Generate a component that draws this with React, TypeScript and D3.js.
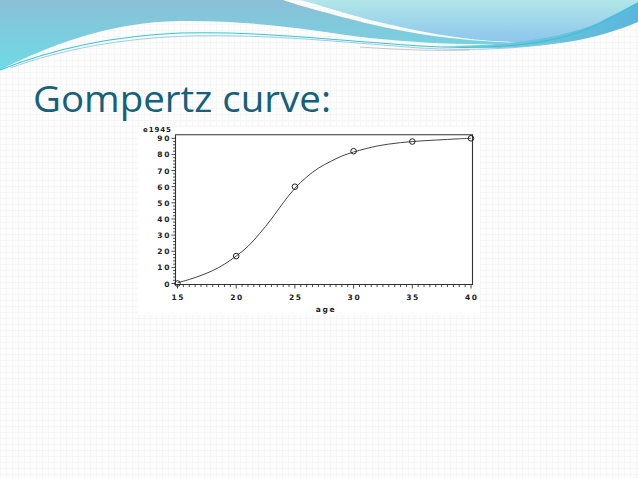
import React from "react";
import * as d3 from "d3";

// observed points (age, e1945)
const obsAge = [15, 20, 25, 30, 35, 40];
const obsVal = [0, 17, 60, 82, 88, 90];
// fitted Gompertz curve
const curveAge = [15, 16, 17, 18, 19, 20, 21, 22, 23, 24, 25, 26, 27, 28, 29, 30, 31, 32, 33, 34, 35, 36, 37, 38, 39, 40];
const curveVal = [0.5, 2.5, 5, 8, 12, 17, 23, 31, 40, 50, 59, 66, 71.5, 75.5, 79, 81.5, 83.5, 85.2, 86.4, 87.3, 88, 88.5, 88.9, 89.3, 89.7, 90];
const xTicks = [15, 20, 25, 30, 35, 40];
const yTicks = [0, 10, 20, 30, 40, 50, 60, 70, 80, 90];

const W = 638, H = 478;

export default function App() {
  const x = d3.scaleLinear().domain([15, 40]).range([177.5, 471]);
  const y = d3.scaleLinear().domain([0, 90]).range([283.5, 138.3]);
  const line = d3
    .line<number>()
    .x((_, i) => x(curveAge[i]))
    .y((d) => y(d))
    .curve(d3.curveCatmullRom.alpha(0.5));
  const xMinor = d3.range(15, 40.01, 0.5);
  const yMinor = d3.range(0, 90.01, 2);
  const axisLeft = 175.5;
  const axisBottom = 284.5;
  const frameTop = 134.7;
  const frameRight = 472.5;
  const tickFont = { fontFamily: "DejaVu Sans, sans-serif", fontSize: 7.5, fontWeight: 700, letterSpacing: 1.6, fill: "#222" } as const;

  return (
    <svg width={W} height={H} style={{ position: "absolute", left: 0, top: 0 }}>
      <defs>
        <linearGradient id="gL" x1="0" y1="0" x2="0" y2="1">
          <stop offset="0" stopColor="#8bbfd6" />
          <stop offset="1" stopColor="#6ddbe6" />
        </linearGradient>
        <linearGradient id="gR" x1="0" y1="0" x2="0" y2="1">
          <stop offset="0" stopColor="#b2e6e8" />
          <stop offset="1" stopColor="#8cc6ec" />
        </linearGradient>
        <linearGradient id="gB" x1="0" y1="0" x2="1" y2="0">
          <stop offset="0" stopColor="#7fd0e0" />
          <stop offset="1" stopColor="#5ab6dc" />
        </linearGradient>
        <pattern id="tex" width="6" height="6" patternUnits="userSpaceOnUse">
          <rect width="6" height="6" fill="#fdfdfd" />
          <path d="M0 0.5H6M0.5 0V6" stroke="#f6f6f6" strokeWidth="1" />
        </pattern>
      </defs>
      <rect x={0} y={0} width={W} height={H} fill="url(#tex)" />

      {/* header waves */}
      <path d="M300 0 L638 0 L638 8 C600 25 560 40 520 42 C470 42 420 32 370 20 C340 12 320 5 300 0 Z" fill="url(#gR)" />
      <path d="M0 0 L283 0 C300 6 330 14 370 24 C420 36 470 42 530 43 C470 46 420 43 370 38 C320 32 260 20 180 21 C110 22 50 45 0 70 Z" fill="url(#gL)" />
      <path d="M440 46 C500 46 560 40 600 22 C615 14 628 8 638 2 L638 22 C600 38 560 46 500 48 C480 48 460 47 440 46 Z" fill="url(#gB)" />
      <path d="M0 70 C50 50 110 36 180 33 C260 31 330 40 420 46 C480 50 540 46 580 32 C605 24 625 10 638 3" fill="none" stroke="#35c6d0" strokeWidth="1.1" />
      <path d="M10 68 C60 50 120 38 190 36 C270 34 340 42 420 48 C470 51 520 49 560 42" fill="none" stroke="#8fc8e8" strokeWidth="0.9" />
      <path d="M360 47 C400 50 440 51 470 50" fill="none" stroke="#bbbbbb" strokeWidth="0.8" />

      {/* title */}
      <text x={33} y={112} fontFamily="Open Sans, sans-serif" fontSize={36} fill="#15607a" textLength={298} lengthAdjust="spacingAndGlyphs">
        Gompertz curve:
      </text>

      {/* chart panel */}
      <rect x={138} y={127} width={342} height={188} fill="#ffffff" />

      {/* frame */}
      <path d={`M${axisLeft} ${frameTop} H${frameRight} V${axisBottom} H${axisLeft} Z`} fill="none" stroke="#333" strokeWidth={1.1} />

      {/* x ticks */}
      {xMinor.map((t) => {
        const major = Math.abs(t % 5) < 1e-6;
        return <line key={"xm" + t} x1={x(t)} x2={x(t)} y1={axisBottom} y2={axisBottom + (major ? 4 : 2.5)} stroke="#333" strokeWidth={0.9} />;
      })}
      {xTicks.map((t) => (
        <text key={"xl" + t} x={x(t) + 0.8} y={299.5} textAnchor="middle" {...tickFont}>
          {t}
        </text>
      ))}
      <text x={326} y={312} textAnchor="middle" {...tickFont}>age</text>

      {/* y ticks */}
      {yMinor.map((t) => {
        const major = t % 10 === 0;
        return <line key={"ym" + t} x1={axisLeft - (major ? 4 : 2.5)} x2={axisLeft} y1={y(t)} y2={y(t)} stroke="#333" strokeWidth={0.9} />;
      })}
      {yTicks.map((t) => (
        <text key={"yl" + t} x={171} y={y(t) + 3} textAnchor="end" {...tickFont}>
          {t}
        </text>
      ))}
      <text x={143} y={132} {...tickFont} fontSize={7} letterSpacing={0.9}>e1945</text>

      {/* curve */}
      <path d={line(curveVal) || ""} fill="none" stroke="#444" strokeWidth={1} />
      {obsAge.map((a, i) => (
        <circle key={"p" + a} cx={x(a)} cy={y(obsVal[i])} r={2.8} fill="none" stroke="#222" strokeWidth={1} />
      ))}
    </svg>
  );
}
